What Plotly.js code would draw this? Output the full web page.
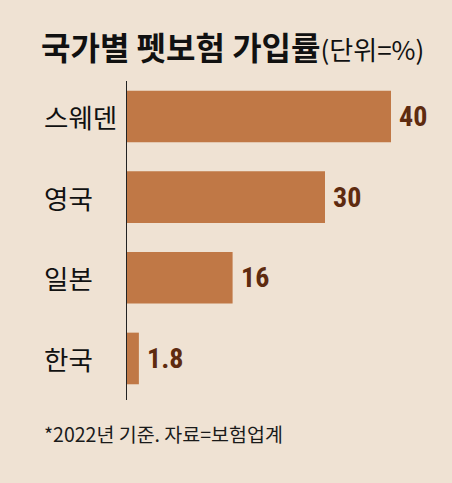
<!DOCTYPE html>
<html>
<head>
<meta charset="utf-8">
<script src="https://cdn.plot.ly/plotly-3.0.1.min.js"></script>
<style>
  html, body { margin: 0; padding: 0; background: #efe2d3; }
  #chart { width: 452px; height: 483px; }
</style>
</head>
<body>
<div id="chart"></div>
<script>
// Data
const countries = ["스웨덴", "영국", "일본", "한국"];
const rates = [40, 30, 16, 1.8];
const rateLabels = ["40", "30", "16", "1.8"];
const titleMain = "국가별 펫보험 가입률";
const titleUnit = "(단위=%)";
const footnote = "*2022년 기준. 자료=보험업계";

const W = 452, H = 483;
const L = 127, R = 28, T = 81, B = 83;
const plotW = W - L - R;
const krFont = "'Noto Sans CJK KR', 'Noto Sans', sans-serif";
const numFont = "'Liberation Sans Narrow', 'Roboto Condensed', 'Arial Narrow', 'DejaVu Sans Condensed', sans-serif";

const trace = {
  type: "bar",
  orientation: "h",
  y: countries,
  x: rates,
  marker: { color: "#c07846", line: { width: 0 } },
  hoverinfo: "none"
};

const annotations = [];
countries.forEach((c, i) => {
  annotations.push({
    xref: "paper", yref: "y",
    x: (42 - L) / plotW, y: c,
    xanchor: "left", yanchor: "middle",
    text: c, showarrow: false,
    font: { family: krFont, size: 26.5, color: "#111111" }
  });
  annotations.push({
    xref: "x", yref: "y",
    x: rates[i], y: c,
    xanchor: "left", yanchor: "middle",
    xshift: 6, yshift: 0,
    text: "<b>" + rateLabels[i] + "</b>", showarrow: false,
    font: { family: numFont, size: 28, color: "#5e2b10" }
  });
});
annotations.push({
  xref: "paper", yref: "paper",
  x: (42 - L) / plotW, y: (H - B - 434) / (H - T - B),
  xanchor: "left", yanchor: "middle",
  text: footnote, showarrow: false,
  font: { family: krFont, size: 19.5, color: "#1a1a1a" }
});

const layout = {
  width: W, height: H,
  margin: { l: L, r: R, t: T, b: B, pad: 0 },
  paper_bgcolor: "#efe2d3",
  plot_bgcolor: "#efe2d3",
  showlegend: false,
  bargap: 0.36,
  title: {
    text: "<b>" + titleMain + "</b><span style='font-size:26px;font-weight:normal'>" + titleUnit + "</span>",
    xref: "container", yref: "container",
    x: 41 / W, xanchor: "left",
    y: 1 - 49 / H, yanchor: "middle",
    font: { family: krFont, size: 32, color: "#111111" }
  },
  xaxis: {
    range: [0, (W - L - R) / 6.6],
    visible: false,
    fixedrange: true
  },
  yaxis: {
    type: "category",
    range: [3.515, -0.44],
    showticklabels: false,
    ticks: "",
    showgrid: false,
    zeroline: false,
    showline: true,
    linecolor: "#222222",
    linewidth: 1.3,
    fixedrange: true
  },
  annotations: annotations
};

Plotly.newPlot("chart", [trace], layout, { displayModeBar: false, staticPlot: true });
</script>
</body>
</html>
